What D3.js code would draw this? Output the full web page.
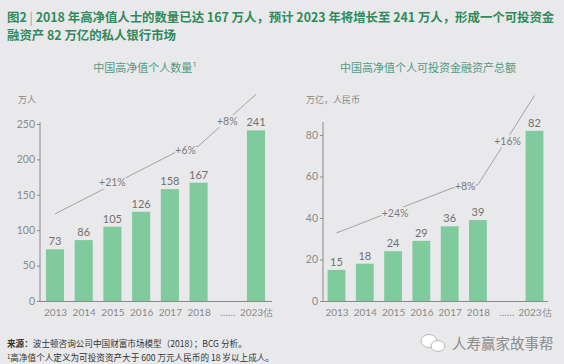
<!DOCTYPE html>
<html><head><meta charset="utf-8">
<script src="https://cdn.jsdelivr.net/npm/d3@7/dist/d3.min.js"></script>
<style>
html,body{margin:0;padding:0;background:#e9e9eb;}
svg{display:block;font-family:"Noto Sans CJK SC","Noto Sans",sans-serif;}
</style></head>
<body><svg id="c" width="564" height="364"></svg>
<script>
// ---- data ----
const categories = ["2013","2014","2015","2016","2017","2018","……","2023估"];
const hnwiCount = [73, 86, 105, 126, 158, 167, null, 241];          // 万人
const hnwiAssets = [15, 18, 24, 29, 36, 39, null, 82];              // 万亿人民币
const leftTicks = [0, 50, 100, 150, 200, 250];
const rightTicks = [0, 20, 40, 60, 80];
// trend line points (category index, value)
const leftTrend = [[0, 123], [4.2, 210], [5, 219], [7, 292]];
const rightTrend = [[0, 32.8], [4.1, 54.5], [5, 56], [7, 99]];
const leftGrowth = [{x: 2.0, y: 167, t: "+21%"}, {x: 4.55, y: 213, t: "+6%"}, {x: 6.0, y: 254, t: "+8%"}];
const rightGrowth = [{x: 2.07, y: 42.4, t: "+24%"}, {x: 4.55, y: 55.3, t: "+8%"}, {x: 6.05, y: 77, t: "+16%"}];

const BG = "#e9e9eb", BAR = "#7fcb9e", GRAY = "#8a8a8a";
const svg = d3.select("#c");
svg.append("rect").attr("width",564).attr("height",364).attr("fill",BG);

// header
const head = svg.append("text").attr("x",7).attr("y",22).attr("fill","#2f8a5c")
  .attr("font-weight","bold").attr("font-size",12.4);
head.append("tspan").text("图2 ");
head.append("tspan").attr("fill","#9a9a9a").attr("font-weight","normal").text("|");
head.append("tspan").text(" 2018 年高净值人士的数量已达 167 万人，预计 2023 年将增长至 241 万人，形成一个可投资金");
svg.append("text").attr("x",7).attr("y",40).attr("fill","#2f8a5c").attr("font-weight","bold")
  .attr("font-size",12.4).text("融资产 82 万亿的私人银行市场");

function panel(o){
  const g = svg.append("g");
  const x = d3.scalePoint().domain(d3.range(categories.length)).range([o.x0, o.x1]);
  const step = x.step();
  const xi = d3.scaleLinear().domain([0, categories.length-1]).range([o.x0, o.x1]);
  const y = d3.scaleLinear().domain([0, o.ymax]).range([301, o.ytop]);
  // title
  g.append("text").attr("x",o.tx).attr("y",72).attr("text-anchor","middle")
    .attr("fill","#4e9c84").attr("font-size",11).text(o.title);
  g.append("text").attr("x",o.ux).attr("y",103).attr("fill",GRAY).attr("font-size",9).text(o.unit);
  // y axis
  const ya = g.append("g").attr("transform",`translate(${o.ax},0)`)
    .call(d3.axisLeft(y).tickValues(o.ticks).tickSize(3).tickPadding(2).tickFormat(d3.format("d")));
  ya.select(".domain").remove();
  ya.selectAll("line").attr("stroke",GRAY);
  ya.selectAll("text").attr("fill",GRAY).attr("font-size",10.5).attr("font-family","Lato,'Noto Sans',sans-serif");
  g.append("line").attr("x1",o.ax).attr("x2",o.ax).attr("y1",y(0)).attr("y2",o.axTop).attr("stroke",GRAY).attr("stroke-width",1);
  // bars
  const bw = step*0.63;
  const d = o.values.map((v,i)=>({v,i})).filter(e=>e.v!=null);
  g.selectAll("rect.bar").data(d).join("rect").attr("class","bar")
    .attr("x",e=>x(e.i)-bw/2).attr("width",bw)
    .attr("y",e=>y(e.v)).attr("height",e=>y(0)-y(e.v)).attr("fill",BAR);
  g.selectAll("text.val").data(d).join("text").attr("class","val")
    .attr("x",e=>x(e.i)).attr("y",e=>y(e.v)-4).attr("text-anchor","middle")
    .attr("fill","#707070").attr("font-size",11).attr("font-family","Lato,'Noto Sans',sans-serif").text(e=>e.v);
  // x axis
  g.append("line").attr("x1",o.ax).attr("x2",o.xEnd).attr("y1",y(0)+0.5).attr("y2",y(0)+0.5).attr("stroke",GRAY);
  const xa = g.append("g").attr("transform",`translate(0,${y(0)})`)
    .call(d3.axisBottom(x).tickSize(0).tickPadding(8).tickFormat(i=>categories[i]));
  xa.select(".domain").remove();
  xa.selectAll("text").attr("fill",GRAY).attr("font-size",10).attr("font-family","Lato,'Noto Sans',sans-serif");
  // trend
  g.append("path").datum(o.trend).attr("fill","none").attr("stroke","#9a9a9a").attr("stroke-width",0.9)
    .attr("d",d3.line().x(p=>xi(p[0])).y(p=>y(p[1])));
  const lab = g.selectAll("g.gr").data(o.growth).join("g").attr("class","gr")
    .attr("transform",p=>`translate(${xi(p.x)},${y(p.y)})`);
  lab.append("rect").attr("x",p=>-p.t.length*3.1-1).attr("y",-6).attr("width",p=>p.t.length*6.2+2).attr("height",12).attr("fill",BG);
  lab.append("text").attr("text-anchor","middle").attr("dy","0.35em").attr("fill","#7a7a7a")
    .attr("font-size",10.5).attr("font-family","Lato,'Noto Sans',sans-serif").text(p=>p.t);
}

panel({x0:55, x1:256, ax:40, axTop:122, xEnd:272, ymax:250, ytop:124, ticks:leftTicks,
  values:hnwiCount, trend:leftTrend, growth:leftGrowth, title:"中国高净值个人数量¹", tx:145, unit:"万人", ux:18});
panel({x0:336.5, x1:534.5, ax:323, axTop:122, xEnd:548, ymax:80, ytop:135, ticks:rightTicks,
  values:hnwiAssets, trend:rightTrend, growth:rightGrowth, title:"中国高净值个人可投资金融资产总额", tx:428, unit:"万亿，人民币", ux:306});

// footer
const f1 = svg.append("text").attr("x",7).attr("y",347).attr("font-size",8.6).attr("fill","#333");
f1.append("tspan").attr("font-weight","bold").text("来源：");
f1.append("tspan").text("波士顿咨询公司中国财富市场模型（2018）；BCG 分析。");
const f2 = svg.append("text").attr("x",7).attr("y",361).attr("font-size",8.6).attr("fill","#333");
f2.append("tspan").attr("font-size",6).attr("dy",-2).text("1");
f2.append("tspan").attr("dy",2).text("高净值个人定义为可投资资产大于 600 万元人民币的 18 岁以上成人。");

// watermark
const wm = svg.append("g").attr("transform","translate(421,343)");
wm.append("ellipse").attr("cx",8).attr("cy",-2).attr("rx",8).attr("ry",6.5).attr("fill","#fff").attr("stroke","#b8b8b8");
wm.append("ellipse").attr("cx",17).attr("cy",3).attr("rx",7).attr("ry",5.5).attr("fill","#fff").attr("stroke","#b8b8b8");
wm.append("text").attr("x",31).attr("y",6).attr("font-size",14.5).attr("fill","#8c8c8c").text("人寿赢家故事帮");
</script></body></html>
